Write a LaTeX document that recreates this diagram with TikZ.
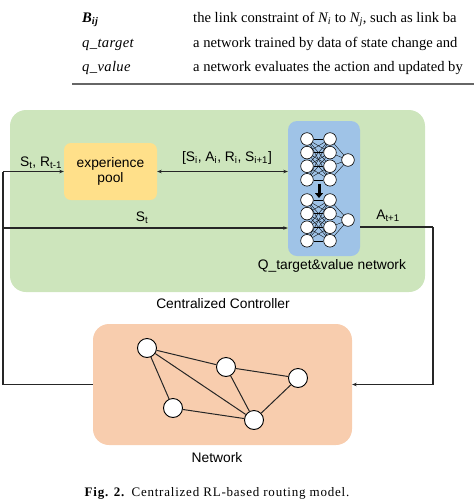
\documentclass[tikz,border=0pt]{standalone}
\usepackage{fontspec}
\setmainfont{Liberation Sans}
\newfontfamily\serif{Liberation Serif}
\newfontfamily\serifleft{Liberation Serif}[LetterSpace=2.5]
\newfontfamily\serifwide{Liberation Serif}[LetterSpace=6]
\usetikzlibrary{arrows.meta,calc}
\definecolor{ctrlgreen}{HTML}{CDE5BC}
\definecolor{poolyellow}{HTML}{FFE08A}
\definecolor{nnblue}{HTML}{9FC3E7}
\definecolor{netorange}{HTML}{F8CDAE}
\definecolor{rulegray}{HTML}{666666}
\begin{document}
\begin{tikzpicture}[x=1pt,y=-1pt,
  lbl/.style={font=\fontsize{13.8}{16}\selectfont, inner sep=0pt},
  tab/.style={font=\serif\fontsize{14.6}{17}\selectfont, inner sep=0pt, anchor=base west},
  tabl/.style={font=\serifleft\fontsize{14.6}{17}\selectfont, inner sep=0pt, anchor=base west},
  neuron/.style={circle, draw=black, fill=white, line width=0.6pt, minimum size=12.6pt, inner sep=0pt},
  netnode/.style={circle, draw=black, fill=white, line width=0.9pt, minimum size=19pt, inner sep=0pt},
  wire/.style={line width=0.35pt},
  link/.style={line width=1pt, draw=black!85},
  conn/.style={line width=1.1pt, draw=black!85},
  arr/.style={conn, -{Stealth[length=4.5pt,width=3.5pt]}},
  darr/.style={conn, {Stealth[length=4.5pt,width=3.5pt]}-{Stealth[length=4.5pt,width=3.5pt]}}
]
\useasboundingbox (0,0) rectangle (474,499);
\clip (0,0) rectangle (474,499);

% ---- table fragment ----
\node[tabl] (b1) at (82,22) {\bfseries\itshape B\textsubscript{ij}};
\node[tabl] (b2) at (82,47) {\itshape q\_target};
\node[tabl] (b3) at (82,71) {\itshape q\_value};
\node[tab] (t1) at (193,22) {the link constraint of {\itshape N}\textsubscript{\itshape i} to {\itshape N}\textsubscript{\itshape j}, such as link ba};
\node[tab] (t2) at (193,47) {a network trained by data of state change and};
\node[tab] (t3) at (193,71) {a network evaluates the action and updated by};
\draw[rulegray, line width=1.3pt] (72,84) -- (474,84);

% ---- boxes ----
\node[draw=none, fill=ctrlgreen, rounded corners=16pt, minimum width=415pt, minimum height=182pt, inner sep=0pt] (ctrl) at (217.5,201) {};
\node[fill=poolyellow, rounded corners=7pt, minimum width=93pt, minimum height=57pt, inner sep=0pt, lbl, align=center] (pool) at (110.5,171.5) {experience\\[-1pt]pool};
\node[fill=nnblue, rounded corners=9pt, minimum width=72pt, minimum height=135pt, inner sep=0pt] (nn) at (324,188.5) {};
\node[fill=netorange, rounded corners=16pt, minimum width=259pt, minimum height=121pt, inner sep=0pt] (net) at (222.5,384.5) {};

% ---- neural nets ----
\foreach \i/\y in {1/139,2/152.6,3/166.2,4/179.8}{
  \node[neuron] (ua\i) at (307,\y) {};
  \node[neuron] (ub\i) at (330,\y) {};
}
\foreach \i/\y in {1/200,2/213.6,3/227.2,4/240.8}{
  \node[neuron] (la\i) at (307,\y) {};
  \node[neuron] (lb\i) at (330,\y) {};
}
\node[neuron] (uo) at (348,160) {};
\node[neuron] (lo) at (348,220) {};
\foreach \i in {1,...,4}{
  \foreach \j in {1,...,4}{
    \draw[wire] (ua\i) -- (ub\j);
    \draw[wire] (la\i) -- (lb\j);
  }
  \draw[wire] (ub\i) -- (uo);
  \draw[wire] (lb\i) -- (lo);
}
\coordinate (da) at (319,183.5);
\coordinate (db) at (319,198);
\draw[line width=3pt, -{Triangle[length=5pt,width=8pt]}] (da) -- (db);

% ---- network graph ----
\node[netnode] (n1) at (147,348) {};
\node[netnode] (n2) at (226,367) {};
\node[netnode] (n3) at (298,378) {};
\node[netnode] (n4) at (173,408) {};
\node[netnode] (n5) at (254,420) {};
\draw[link] (n1) -- (n2);
\draw[link] (n1) -- (n4);
\draw[link] (n1) -- (n5);
\draw[link] (n2) -- (n3);
\draw[link] (n2) -- (n5);
\draw[link] (n3) -- (n5);
\draw[link] (n4) -- (n5);

% ---- connectors ----
\coordinate (lt) at (3,171.5);
\coordinate (ls) at (3,228);
\coordinate (ar) at (433,227);
\draw[conn, line width=1.4pt] (lt) |- (net.west);
\draw[arr] (lt) -- (pool.west);
\draw[arr] (ls) -- (ls -| nn.west);
\draw[darr] (pool.east) -- (pool.east -| nn.west);
\draw[conn] (ar -| nn.east) -- (ar);
\draw[arr, line width=1.4pt] (ar) |- (net.east);

% ---- labels ----
\node[lbl] (l1) at (41,163) {S\textsubscript{t}, R\textsubscript{t-1}};
\node[lbl] (l2) at (227,158) {[S\textsubscript{i}, A\textsubscript{i}, R\textsubscript{i}, S\textsubscript{i+1}]};
\node[lbl] (l3) at (142,218) {S\textsubscript{t}};
\node[lbl] (l4) at (388,216) {A\textsubscript{t+1}};
\node[lbl] (l5) at (332,266) {Q\_target\&value network};
\node[lbl] (l6) at (223,304) {Centralized Controller};
\node[lbl] (l7) at (217,458) {Network};
\node[font=\serifwide\fontsize{13}{15}\selectfont, inner sep=0pt] (cap) at (217,493) {\textbf{Fig. 2.}\enspace Centralized RL-based routing model.};
\end{tikzpicture}
\end{document}
